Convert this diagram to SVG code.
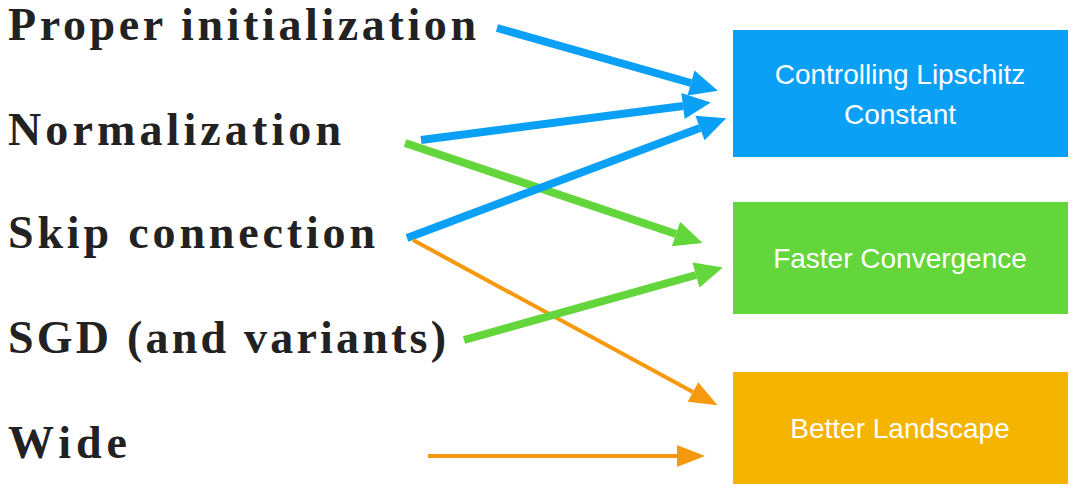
<svg xmlns="http://www.w3.org/2000/svg" width="1080" height="489" viewBox="0 0 1080 489">
<style>
.lbl{font-family:"Liberation Serif",serif;font-weight:bold;font-size:46px;fill:#222}
.nt{font-family:"Liberation Sans",Arial,sans-serif;font-size:28px;fill:#fff;text-anchor:middle}
.b{stroke:#0aa0f5;stroke-width:8;fill:none}
.g{stroke:#62d63a;stroke-width:8;fill:none}
.o{stroke:#f7990e;stroke-width:4;fill:none}
</style>
<defs>
<marker id="mb" markerUnits="userSpaceOnUse" markerWidth="30" markerHeight="30" refX="0" refY="0" orient="auto" overflow="visible"><path d="M0,-13 L28,0 L0,13 z" fill="#0aa0f5"/></marker>
<marker id="mg" markerUnits="userSpaceOnUse" markerWidth="30" markerHeight="30" refX="0" refY="0" orient="auto" overflow="visible"><path d="M0,-13 L28,0 L0,13 z" fill="#62d63a"/></marker>
<marker id="mo" markerUnits="userSpaceOnUse" markerWidth="30" markerHeight="30" refX="0" refY="0" orient="auto" overflow="visible"><path d="M0,-11 L28,0 L0,11 z" fill="#f7990e"/></marker>
</defs>
<text class="lbl" x="8" y="40" textLength="468">Proper initialization</text>
<text class="lbl" x="8" y="145" textLength="333">Normalization</text>
<text class="lbl" x="8" y="248" textLength="367">Skip connection</text>
<text class="lbl" x="8" y="353" textLength="438">SGD (and variants)</text>
<text class="lbl" x="8" y="458" textLength="119">Wide</text>
<g id="n1"><rect x="733" y="30" width="335" height="127" fill="#0aa0f5"/><text class="nt" x="900" y="84">Controlling Lipschitz</text><text class="nt" x="900" y="124">Constant</text></g>
<g id="n2"><rect x="733" y="202" width="335" height="112" fill="#62d63a"/><text class="nt" x="900" y="268">Faster Convergence</text></g>
<g id="n3"><rect x="733" y="372" width="335" height="112" fill="#f4b400"/><text class="nt" x="900" y="438">Better Landscape</text></g>
<g id="connectors">
<line class="b" x1="497" y1="28" x2="691" y2="83" marker-end="url(#mb)"/>
<line class="b" x1="421" y1="140" x2="683" y2="106" marker-end="url(#mb)"/>
<line class="g" x1="405" y1="143" x2="676" y2="234" marker-end="url(#mg)"/>
<line class="b" x1="407" y1="238" x2="700" y2="128" marker-end="url(#mb)"/>
<line class="o" x1="413" y1="240" x2="693" y2="392" marker-end="url(#mo)"/>
<line class="g" x1="464" y1="340" x2="696" y2="275" marker-end="url(#mg)"/>
<line class="o" x1="428" y1="456" x2="677" y2="456" marker-end="url(#mo)"/>
</g>
</svg>
